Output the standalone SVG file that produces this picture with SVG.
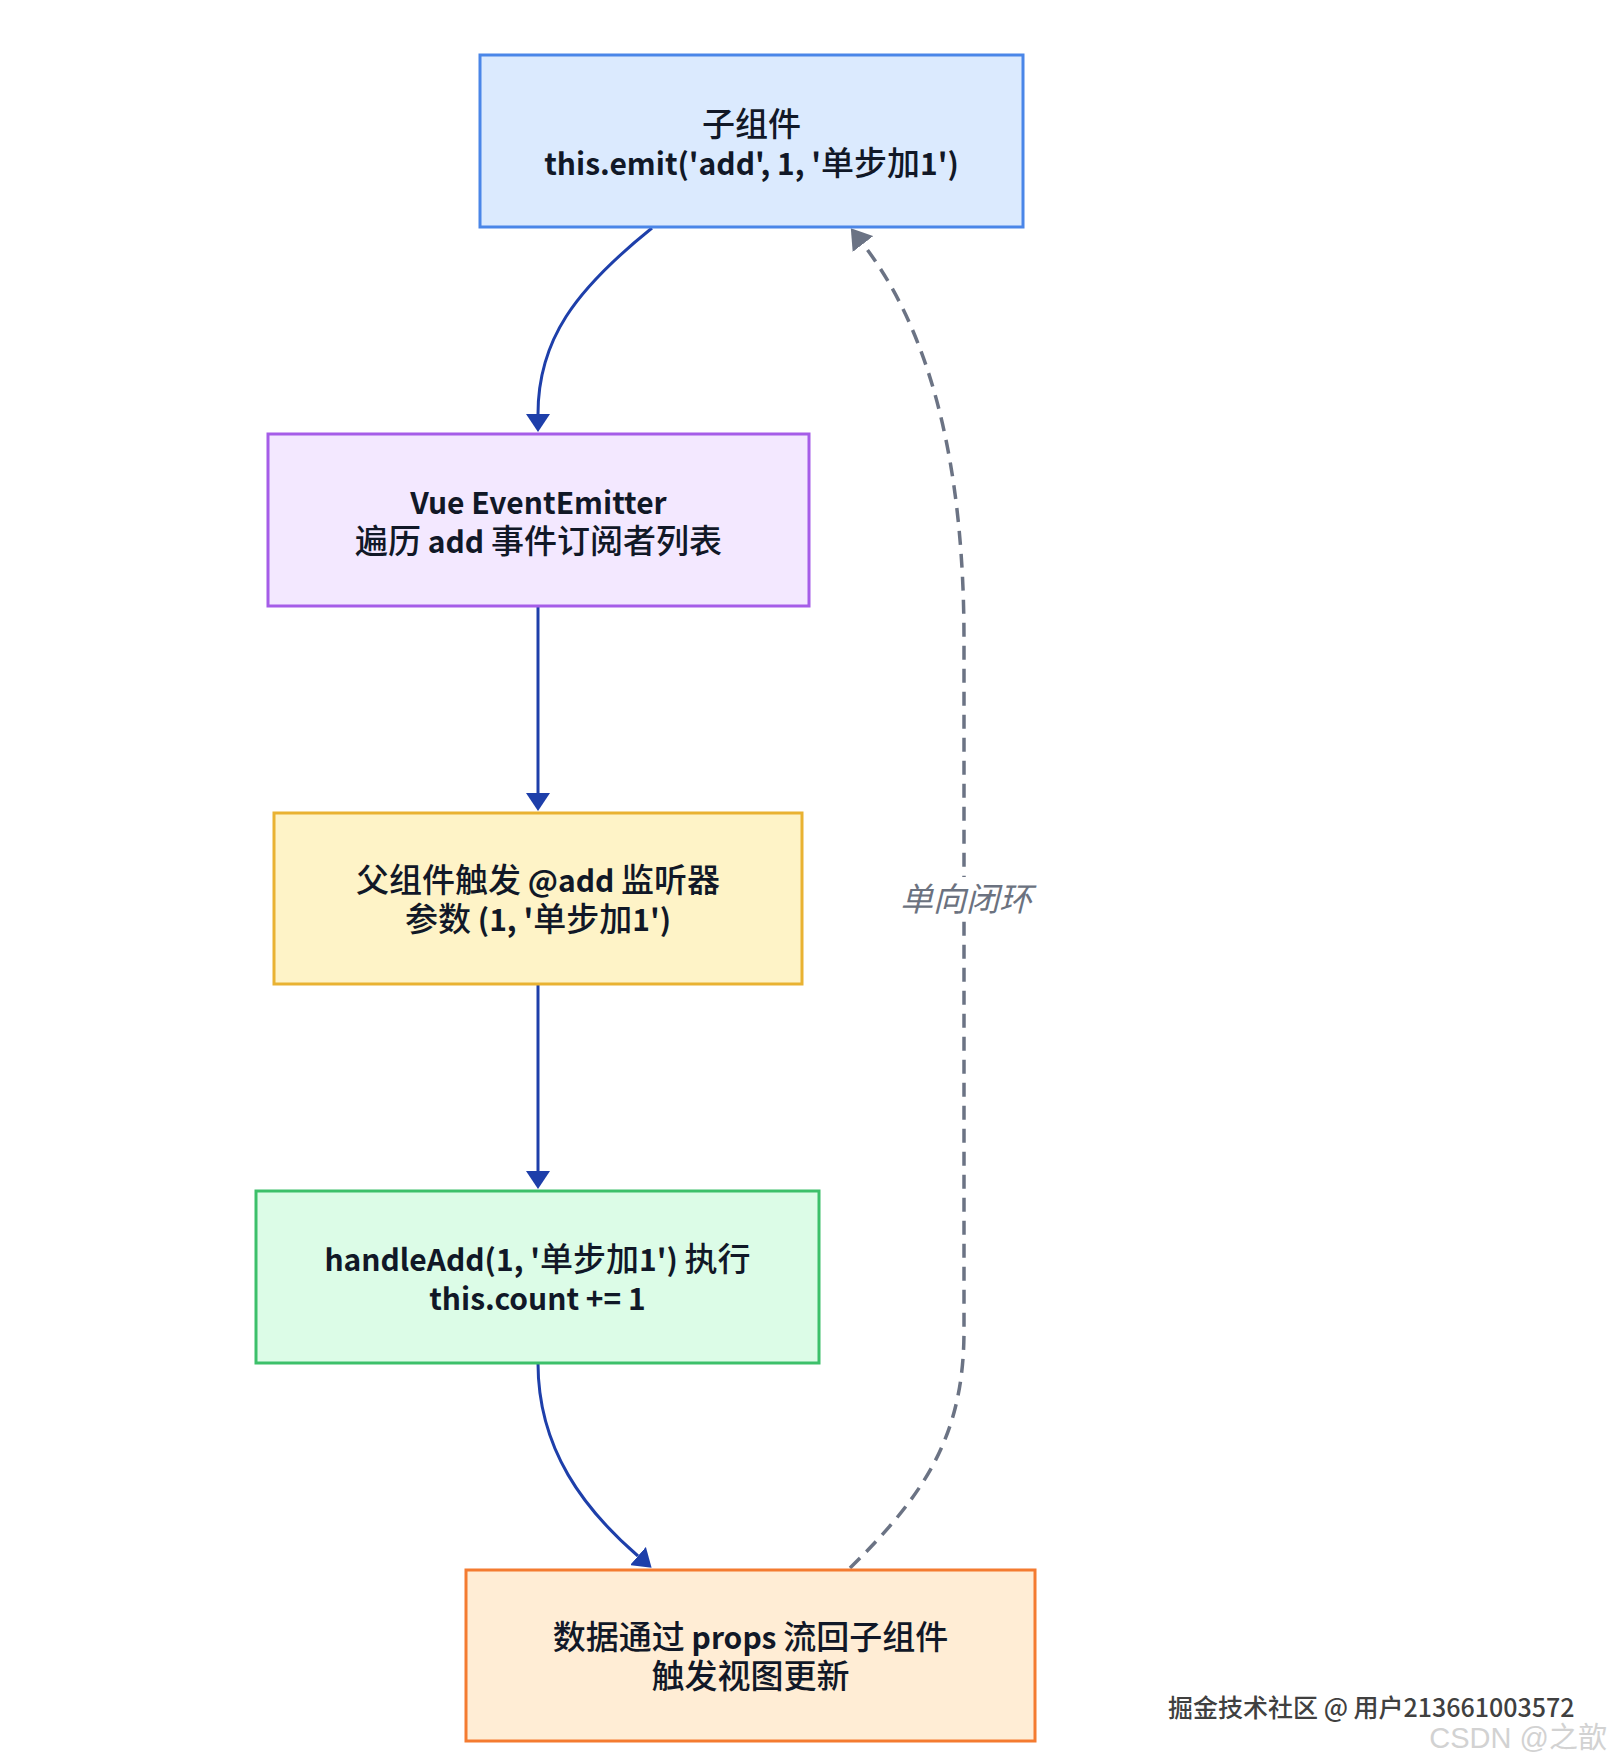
<svg xmlns="http://www.w3.org/2000/svg" width="1612" height="1764" viewBox="0 0 1612 1764">
<style>
.node rect{stroke-width:3}
.t{font-family:"Noto Sans CJK SC","Noto Sans",sans-serif;font-size:33px;fill:#111827;text-anchor:middle}
.b{font-weight:bold;font-size:30px}
.c{font-weight:500}
.edge{fill:none;stroke:#1e3faa;stroke-width:3}
.dash{fill:none;stroke:#6b7384;stroke-width:3.5;stroke-dasharray:14 9}
.lbl{font-family:"Noto Sans CJK SC","Noto Sans",sans-serif;font-size:33px;font-style:italic;fill:#6b7280;text-anchor:middle}
</style>
<defs>
<marker id="ab" viewBox="0 0 18 24" refX="0" refY="12" markerWidth="18" markerHeight="24" markerUnits="userSpaceOnUse" orient="auto"><path d="M0,0 L18,12 L0,24 z" fill="#1e3faa"/></marker>
<marker id="ag" viewBox="0 0 20 26" refX="0" refY="13" markerWidth="20" markerHeight="26" markerUnits="userSpaceOnUse" orient="auto"><path d="M0,0 L20,13 L0,26 z" fill="#6b7384"/></marker>
</defs>
<rect width="1612" height="1764" fill="#ffffff"/>
<g id="connectors">
<path class="edge" d="M652 228 C575 290 538 340 538 414" marker-end="url(#ab)"/>
<path class="edge" d="M538 606 L538 793" marker-end="url(#ab)"/>
<path class="edge" d="M538 984 L538 1171" marker-end="url(#ab)"/>
<path class="edge" d="M538 1363 C538 1450 585 1510 638 1556" marker-end="url(#ab)"/>
<path class="dash" d="M850 1568 C930 1490 964 1430 964 1330 L964 640 C964 470 933 335 863 244" marker-end="url(#ag)"/>
<rect x="896" y="877" width="140" height="40" fill="#ffffff"/>
<text class="lbl" x="966" y="911">单向闭环</text>
</g>
<g id="n1" class="node">
<rect x="480" y="55" width="543" height="172" fill="#dbeafe" stroke="#4a86e8"/>
<text class="t" x="751.5" y="136"><tspan class="c">子组件</tspan></text>
<text class="t" x="751.5" y="175"><tspan class="b">this.emit('add', 1, '</tspan><tspan class="c">单步加</tspan><tspan class="b">1')</tspan></text>
</g>
<g id="n2" class="node">
<rect x="268" y="434" width="541" height="172" fill="#f3e8ff" stroke="#a55de8"/>
<text class="t" x="538.5" y="514"><tspan class="b">Vue EventEmitter</tspan></text>
<text class="t" x="538.5" y="553"><tspan class="c">遍历</tspan><tspan class="b"> add </tspan><tspan class="c">事件订阅者列表</tspan></text>
</g>
<g id="n3" class="node">
<rect x="274" y="813" width="528" height="171" fill="#fef3c7" stroke="#e9b232"/>
<text class="t" x="538" y="892"><tspan class="c">父组件触发</tspan><tspan class="b"> @add </tspan><tspan class="c">监听器</tspan></text>
<text class="t" x="538" y="931"><tspan class="c">参数</tspan><tspan class="b"> (1, '</tspan><tspan class="c">单步加</tspan><tspan class="b">1')</tspan></text>
</g>
<g id="n4" class="node">
<rect x="256" y="1191" width="563" height="172" fill="#dcfce7" stroke="#3cc06a"/>
<text class="t" x="537.5" y="1271"><tspan class="b">handleAdd(1, '</tspan><tspan class="c">单步加</tspan><tspan class="b">1') </tspan><tspan class="c">执行</tspan></text>
<text class="t" x="537.5" y="1310"><tspan class="b">this.count += 1</tspan></text>
</g>
<g id="n5" class="node">
<rect x="466" y="1570" width="569" height="171" fill="#ffedd5" stroke="#f47b30"/>
<text class="t" x="750.5" y="1649"><tspan class="c">数据通过</tspan><tspan class="b"> props </tspan><tspan class="c">流回子组件</tspan></text>
<text class="t" x="750.5" y="1688"><tspan class="c">触发视图更新</tspan></text>
</g>
<g id="watermark">
<text x="1168" y="1717" font-family="'Noto Sans CJK SC','Noto Sans',sans-serif" font-size="25" font-weight="500" fill="#404040">掘金技术社区 @ 用户213661003572</text>
<text x="1607" y="1748" text-anchor="end" font-family="'Liberation Sans','Noto Sans CJK SC',sans-serif" font-size="29" fill="#d2d2d2">CSDN @之歆</text>
</g>
</svg>
